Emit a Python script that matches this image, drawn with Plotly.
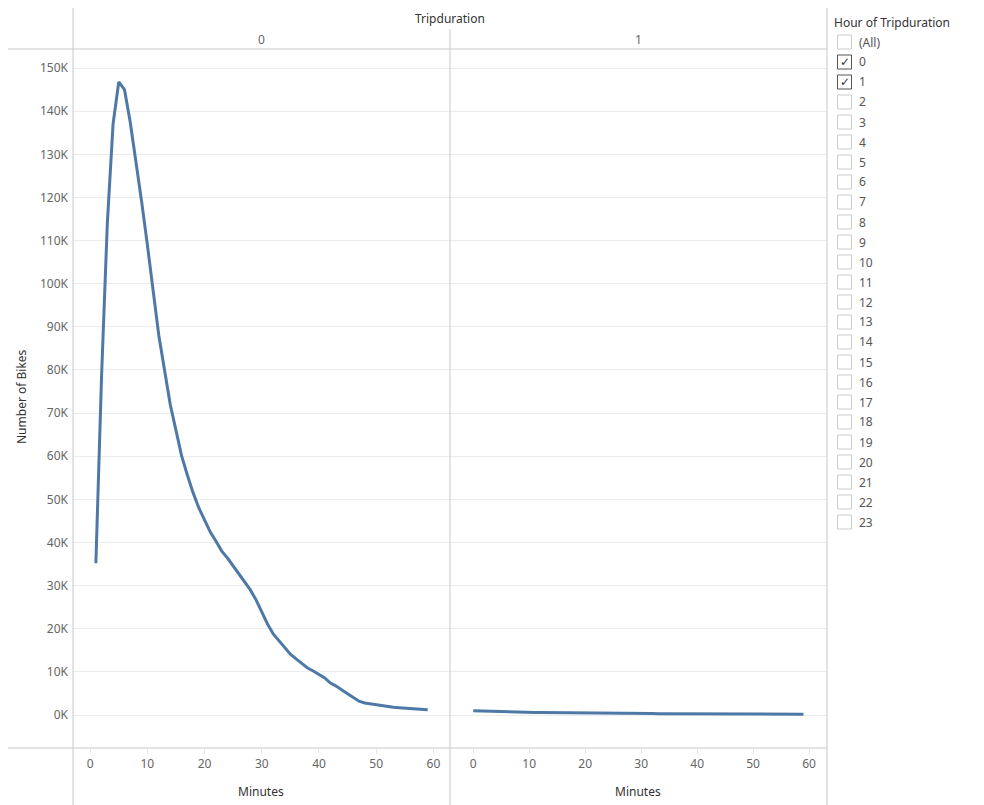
import plotly.graph_objects as go

# data: bikes per trip minute, split by trip hour (0 and 1)
minutes_h0 = list(range(1, 60))
bikes_h0 = [35200, 78800, 114000, 137000, 146800, 145000, 137500, 128700, 119000, 109000,
            98500, 88000, 80000, 72000, 66000, 60000, 55600, 51500, 48000, 45000,
            42400, 40300, 38000, 36400, 34500, 32500, 30800, 29000, 26700, 23900,
            21100, 18800, 17200, 15500, 14100, 13000, 12000, 10900, 10200, 9300,
            8600, 7400, 6700, 5800, 4900, 3900, 3200, 2800, 2600, 2300,
            2100, 1900, 1800, 1700, 1600, 1500, 1400, 1300, 1200]

minutes_h1 = list(range(0, 60))
bikes_h1 = [1000, 950, 900, 860, 820, 780, 740, 700, 680, 650,
            620, 600, 580, 560, 540, 520, 500, 480, 470, 460,
            450, 440, 430, 420, 410, 400, 390, 380, 370, 360,
            350, 340, 330, 320, 310, 300, 295, 290, 285, 280,
            275, 270, 265, 260, 255, 250, 245, 240, 235, 230,
            225, 220, 215, 210, 205, 200, 195, 190, 185, 180]

y_ticks = list(range(0, 150001, 10000))
y_labels = [f"{v // 1000}K" for v in y_ticks]
x_ticks = [0, 10, 20, 30, 40, 50, 60]

filter_items = ["(All)"] + [str(h) for h in range(24)]
checked = {"0", "1"}

# the page body adds an 8px margin, so the figure is sized to fill the rest
OFF = 8
W, H = 984 - OFF, 805 - OFF
FONT = "Noto Sans"
BLUE = "#4e79a7"
RULE = "#c8c8c8"


def px(x):
    return (x - OFF) / W


def py(y):
    return 1 - (y - OFF) / H


fig = go.Figure()
fig.add_trace(go.Scatter(x=minutes_h0, y=bikes_h0, mode="lines", xaxis="x", yaxis="y",
                         line=dict(color=BLUE, width=3), showlegend=False))
fig.add_trace(go.Scatter(x=minutes_h1, y=bikes_h1, mode="lines", xaxis="x2", yaxis="y2",
                         line=dict(color=BLUE, width=3), showlegend=False))

xcommon = dict(tickvals=x_ticks, ticks="outside", ticklen=5, tickcolor="#e6e6e6",
               showgrid=False, zeroline=False, showline=False,
               tickfont=dict(family=FONT, size=12, color="#666666"))
ycommon = dict(range=[-7650, 154420], tickvals=y_ticks, ticktext=y_labels,
               domain=[py(748), py(49)], showgrid=True, gridcolor="#ececec", gridwidth=1,
               zeroline=False, showline=False,
               tickfont=dict(family=FONT, size=12, color="#666666"))

fig.update_layout(
    width=W, height=H,
    margin=dict(l=0, r=0, t=0, b=0),
    paper_bgcolor="white", plot_bgcolor="white",
    xaxis=dict(domain=[px(73), px(450)], range=[-3.0, 62.9], anchor="y", **xcommon),
    xaxis2=dict(domain=[px(450), px(827)], range=[-4.15, 63.2], anchor="y2", **xcommon),
    yaxis=dict(anchor="x", ticklabelstandoff=4, **ycommon),
    yaxis2=dict(anchor="x2", showticklabels=False, **ycommon),
)

# frame rules of the facet table
rules = [
    (73, 8, 73, 805), (450, 29, 450, 805), (827, 8, 827, 805),
    (8, 49, 827, 49), (8, 748, 827, 748),
]
for x0, y0, x1, y1 in rules:
    fig.add_shape(type="line", xref="paper", yref="paper",
                  x0=px(x0), y0=py(y0), x1=px(x1), y1=py(y1),
                  line=dict(color=RULE, width=1))

texts = [
    ("Tripduration", 450, 19, 12, "#333333", 0),
    ("0", 261, 39, 12, "#666666", 0),
    ("1", 638, 39, 12, "#666666", 0),
    ("Minutes", 261, 791, 12, "#333333", 0),
    ("Minutes", 638, 791, 12, "#333333", 0),
    ("Number of Bikes", 21, 397, 12, "#333333", -90),
]
for t, x, y, s, c, ang in texts:
    fig.add_annotation(text=t, xref="paper", yref="paper", x=px(x), y=py(y),
                       showarrow=False, xanchor="center", yanchor="middle", textangle=ang,
                       font=dict(family=FONT, size=s, color=c))

# filter card on the right
fig.add_annotation(text="Hour of Tripduration", xref="paper", yref="paper",
                   x=px(832), y=py(22), showarrow=False, xanchor="left", yanchor="middle",
                   font=dict(family=FONT, size=12, color="#333333"))
for i, item in enumerate(filter_items):
    cy = 42 + 20 * i
    on = item in checked
    fig.add_shape(type="rect", xref="paper", yref="paper",
                  x0=px(837.5), x1=px(851.5), y0=py(cy - 7), y1=py(cy + 7),
                  line=dict(color="#555555" if on else "#cccccc", width=1),
                  fillcolor="white")
    if on:
        fig.add_annotation(text="✓", xref="paper", yref="paper", x=px(844.5), y=py(cy),
                           showarrow=False, xanchor="center", yanchor="middle",
                           font=dict(family="DejaVu Sans", size=12, color="#333333"))
    fig.add_annotation(text=item, xref="paper", yref="paper", x=px(857), y=py(cy),
                       showarrow=False, xanchor="left", yanchor="middle",
                       font=dict(family=FONT, size=12, color="#555555"))

fig.write_html("out.html")
